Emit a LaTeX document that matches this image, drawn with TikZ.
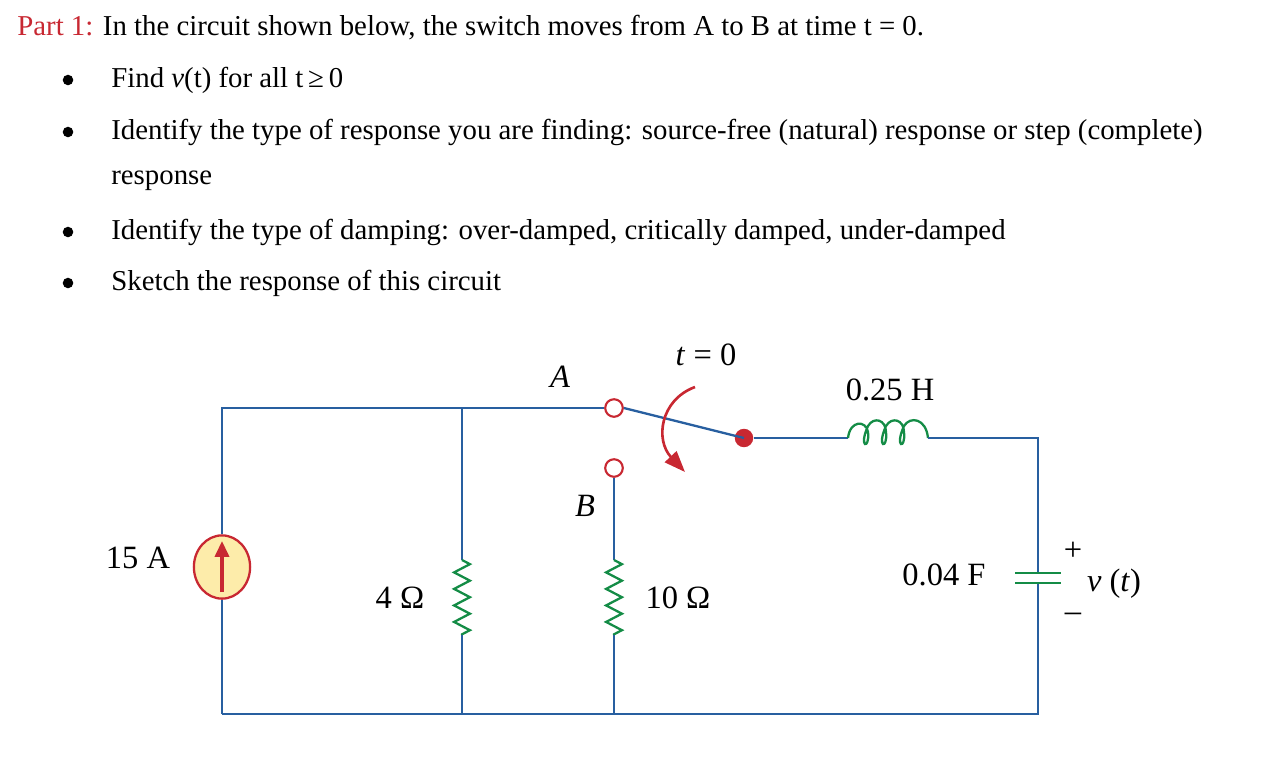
\documentclass[tikz,border=0pt]{standalone}
\usepackage{fontspec}
\setmainfont{Liberation Serif}
\usetikzlibrary{decorations.pathmorphing,arrows.meta,shapes.geometric}
\definecolor{wire}{RGB}{40,95,160}
\definecolor{grn}{RGB}{20,140,70}
\definecolor{rd}{RGB}{200,40,50}
\definecolor{yel}{RGB}{253,236,170}
\tikzset{w/.style={wire,line width=1.3pt},
 res/.style={grn,line width=1.3pt,decorate,decoration={zigzag,segment length=9.4pt,amplitude=4.5pt}},
 txt/.style={anchor=west,inner sep=0pt,font=\fontsize{16.4pt}{19pt}\selectfont},
 lbl/.style={inner sep=0pt,font=\fontsize{18.5pt}{22pt}\selectfont},
 bul/.style={circle,fill=black,inner sep=0pt,minimum size=6pt}}
\begin{document}
\begin{tikzpicture}[x=0.02cm,y=-0.02cm]
\useasboundingbox (0,0) rectangle (1265,765);
\node[txt] (t0) at (17,28) {\textcolor{rd}{Part 1:} In the circuit shown below, the switch moves from A to B at time t = 0.};
\foreach \y/\n in {80/b1,132/b2,232/b3,283/b4}{\node[bul] (\n) at (68,\y) {};}
\node[txt] (t1) at (111,80) {Find \textit{v}(t) for all t\,≥\,0};
\node[txt] (t2) at (111,132) {Identify the type of response you are finding: source-free (natural) response or step (complete)};
\node[txt] (t3) at (111,181) {response};
\node[txt] (t4) at (111,232) {Identify the type of damping: over-damped, critically damped, under-damped};
\node[txt] (t5) at (111,283) {Sketch the response of this circuit};
% nodes
\coordinate (tl) at (222,408); \coordinate (bl) at (222,714);
\coordinate (m1t) at (462,408); \coordinate (m1b) at (462,714);
\coordinate (m2b) at (614,714);
\coordinate (tr) at (1038,438); \coordinate (br) at (1038,714);
\node[circle,draw=rd,fill=white,line width=1.2pt,minimum size=10pt,inner sep=0pt] (A) at (614,408) {};
\node[circle,draw=rd,fill=white,line width=1.2pt,minimum size=10pt,inner sep=0pt] (B) at (614,468) {};
\node[circle,fill=rd,minimum size=10.5pt,inner sep=0pt] (S) at (744,438) {};
\node[ellipse,draw=rd,fill=yel,line width=1.3pt,minimum width=32pt,minimum height=36pt,inner sep=0pt] (src) at (222,567) {};
\draw[w] (bl) -- (src.south); \draw[w] (src.north) -- (tl) -- (A.west);
\draw[rd,line width=1.8pt,-{Triangle[length=9pt,width=8pt]}] (222,592) -- (222,541);
\draw[w] (m1t) -- (462,560); \draw[res] (462,560) -- (462,635); \draw[w] (462,635) -- (m1b);
\draw[w] (B.south) -- (614,560); \draw[res] (614,560) -- (614,635); \draw[w] (614,635) -- (m2b);
\draw[w] (A.east) -- (S.center);
\draw[w] (S) -- (848,438);
\draw[grn,line width=1.3pt] (848,438) .. controls (850,420) and (866,420) .. (868,432)
 .. controls (870,450) and (858,448) .. (868,426) .. controls (874,416) and (886,420) .. (886,432)
 .. controls (888,450) and (876,448) .. (886,426) .. controls (892,416) and (904,420) .. (904,432)
 .. controls (906,450) and (894,448) .. (904,426) .. controls (910,416) and (926,418) .. (928,438);
\draw[w] (928,438) -- (tr) -- (1038,573);
\draw[w] (1038,583) -- (br) -- (bl);
\draw[grn,line width=1.5pt] (1015,573) -- (1061,573) (1015,583) -- (1061,583);
\draw[rd,line width=1.5pt,-{Triangle[length=12pt,width=9pt]}] (695,387) .. controls (660,400) and (655,440) .. (685,472);
\node[lbl] (l1) at (138,558) {15 A};
\node[lbl] (l2) at (400,598) {4 Ω};
\node[lbl] (l3) at (678,598) {10 Ω};
\node[lbl] (l4) at (944,575) {0.04 F};
\node[lbl] (l5) at (890,390) {0.25 H};
\node[lbl] (l6) at (706,355) {\textit{t} = 0};
\node[lbl] (l7) at (560,377) {\textit{A}};
\node[lbl] (l8) at (585,506) {\textit{B}};
\node[lbl] (l9) at (1073,551) {+};
\node[lbl] (l10) at (1073,617) {–};
\node[lbl] (l11) at (1114,584) {\textit{v} (\textit{t})};
\end{tikzpicture}
\end{document}
